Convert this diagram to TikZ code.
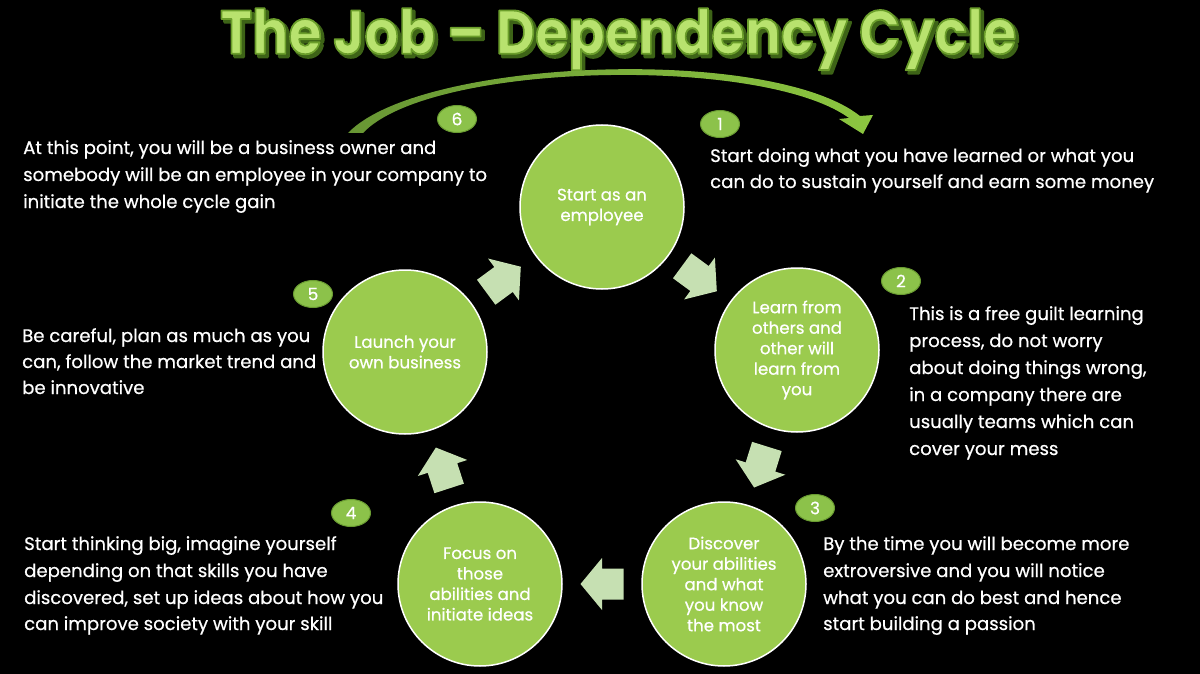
\documentclass[tikz,border=0pt]{standalone}
\usepackage{fontspec}
\setmainfont{Poppins}
\newfontfamily\jdbody{Poppins}[FakeBold=0.6]
\usetikzlibrary{calc,shapes.geometric}
\definecolor{cgreen}{RGB}{155,203,78}
\definecolor{arrfill}{RGB}{198,224,178}
\definecolor{badgefill}{RGB}{140,194,74}
\definecolor{badgeedge}{RGB}{106,156,50}
\definecolor{arcdark}{RGB}{104,150,52}
\definecolor{arclight}{RGB}{140,198,64}
\definecolor{titlefill}{RGB}{184,226,110}
\definecolor{titleshadow}{RGB}{62,100,22}
\newcommand\jdtitle[2]{\resizebox*{796pt}{62pt}{\bfseries\special{pdf:literal direct #1 RG 1 j #2 w 2 Tr}The Job – Dependency Cycle\special{pdf:literal direct 0 Tr}}}
\newcommand\bodyline[4]{\node[bodytext] (#1) at (#2,#3) {#4};}
\tikzset{
  stage/.style={circle, minimum size=164pt, fill=cgreen, draw=white, line width=1.5pt,
    text=white, align=center, inner sep=0pt, font=\jdbody\fontsize{16.6}{20.5}\selectfont},
  badge/.style={ellipse, minimum width=39pt, minimum height=27pt, fill=badgefill,
    draw=badgeedge, line width=1pt, text=white, inner sep=0pt, font=\jdbody\fontsize{17}{17}\selectfont},
  bodytext/.style={anchor=base west, inner sep=0pt, text=white, font=\jdbody\fontsize{18.1}{20}\selectfont},
  titlebox/.style={anchor=north west, inner sep=0pt},
  blockarrow/.style={fill=arrfill}
}
\begin{document}
\begin{tikzpicture}[x=1pt,y=-1pt]
\useasboundingbox (0,0) rectangle (1200,674);
\fill[black] (0,0) rectangle (1200,674);

% title
\node[titlebox, text=titleshadow] (tsh) at (223,11) {\jdtitle{0.24 0.39 0.09}{0.5}};
\node[titlebox, text=titlefill] (tt) at (220,8) {\jdtitle{0.42 0.62 0.17}{0.3}};

% curved arrow
\shade[left color=arcdark, right color=arclight]
  (348,133) .. controls (420,58) and (770,45) .. (860,116)
  -- (873,115) -- (863,134) -- (839,119) -- (849,118)
  .. controls (762,55) and (430,62) .. (363,133) -- cycle;

% stages
\node[stage] (c1) at (602,207) {Start as an\\employee};
\node[stage] (c2) at (797,350) {Learn from\\others and\\other will\\learn from\\you};
\node[stage] (c3) at (724,584) {Discover\\your abilities\\and what\\you know\\the most};
\node[stage] (c4) at (480,584) {Focus on\\those\\abilities and\\initiate ideas};
\node[stage] (c5) at (405,352) {Launch your\\own business};

% block arrows
\foreach \a/\b/\ang in {c5/c1/36.4, c1/c2/-36.3, c2/c3/-107.3, c3/c4/180, c4/c5/108}
  \fill[blockarrow, shift={($(\a)!0.5!(\b)$)}, rotate=\ang]
    (-21.5,-15.5) -- (0,-15.5) -- (0,-26) -- (21.5,0) -- (0,26) -- (0,15.5) -- (-21.5,15.5) -- cycle;

% badges
\node[badge] (b6) at (457,119) {6};
\node[badge] (b1) at (720,124) {1};
\node[badge] (b2) at (901,281) {2};
\node[badge] (b3) at (815,508) {3};
\node[badge] (b4) at (351,513) {4};
\node[badge] (b5) at (313,294) {5};

% texts
\bodyline{t6a}{23}{154}{At this point, you will be a business owner and}
\bodyline{t6b}{23}{181}{somebody will be an employee in your company to}
\bodyline{t6c}{23}{208}{initiate the whole cycle gain}

\bodyline{t1a}{710}{162}{Start doing what you have learned or what you}
\bodyline{t1b}{710}{188}{can do to sustain yourself and earn some money}

\bodyline{t2a}{909}{320}{This is a free guilt learning}
\bodyline{t2b}{909}{347}{process, do not worry}
\bodyline{t2c}{909}{374}{about doing things wrong,}
\bodyline{t2d}{909}{401}{in a company there are}
\bodyline{t2e}{909}{428}{usually teams which can}
\bodyline{t2f}{909}{455}{cover your mess}

\bodyline{t5a}{22}{342}{Be careful, plan as much as you}
\bodyline{t5b}{22}{368}{can, follow the market trend and}
\bodyline{t5c}{22}{394}{be innovative}

\bodyline{t4a}{24}{550}{Start thinking big, imagine yourself}
\bodyline{t4b}{24}{577}{depending on that skills you have}
\bodyline{t4c}{24}{604}{discovered, set up ideas about how you}
\bodyline{t4d}{24}{630}{can improve society with your skill}

\bodyline{t3a}{823}{550}{By the time you will become more}
\bodyline{t3b}{823}{577}{extroversive and you will notice}
\bodyline{t3c}{823}{604}{what you can do best and hence}
\bodyline{t3d}{823}{630}{start building a passion}
\end{tikzpicture}
\end{document}
